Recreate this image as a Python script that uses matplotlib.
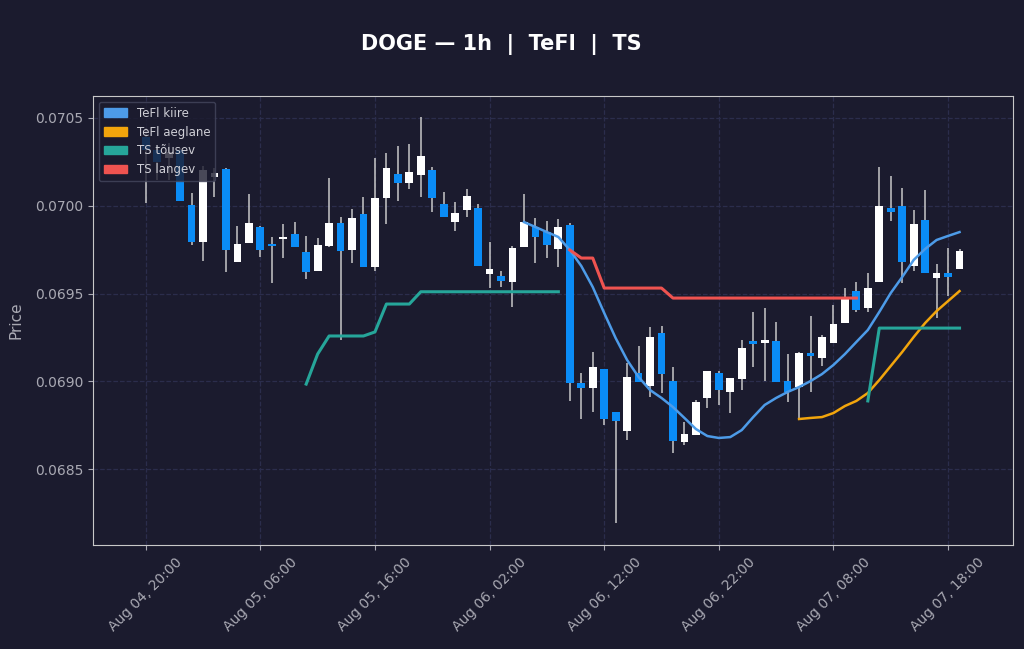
import numpy as np
import pandas as pd
import matplotlib
matplotlib.use("Agg")
import matplotlib.pyplot as plt
import matplotlib.dates as mdates
from matplotlib.patches import Patch

# hourly candles, Aug 04 20:00 -> Aug 07 19:00
times = pd.date_range("2024-08-04 20:00", periods=72, freq="h")

opens = [0.070392, 0.070318, 0.070272, 0.070318, 0.070004, 0.069793, 0.070164, 0.070209,
         0.069680, 0.069788, 0.069879, 0.069782, 0.069811, 0.069839, 0.069737, 0.069628,
         0.069771, 0.069902, 0.069748, 0.069953, 0.069651, 0.070044, 0.070181, 0.070130,
         0.070175, 0.070204, 0.070010, 0.069907, 0.069976, 0.069987, 0.069611, 0.069600,
         0.069566, 0.069765, 0.069879, 0.069850, 0.069754, 0.069890, 0.068990, 0.068962,
         0.069070, 0.068825, 0.068717, 0.069047, 0.068973, 0.069275, 0.069001, 0.068654,
         0.068694, 0.068905, 0.069047, 0.068939, 0.069013, 0.069229, 0.069218, 0.069229,
         0.069001, 0.068967, 0.069161, 0.069133, 0.069218, 0.069332, 0.069514, 0.069417,
         0.069566, 0.069987, 0.069999, 0.069657, 0.069919, 0.069588, 0.069617, 0.069640]
highs = [0.070443, 0.070346, 0.070358, 0.070329, 0.070073, 0.070227, 0.070215, 0.070215,
         0.069885, 0.070067, 0.069885, 0.069822, 0.069896, 0.069907, 0.069828, 0.069816,
         0.070158, 0.069936, 0.069982, 0.070050, 0.070272, 0.070301, 0.070341, 0.070352,
         0.070506, 0.070221, 0.070078, 0.070021, 0.070095, 0.070010, 0.069793, 0.069628,
         0.069771, 0.070067, 0.069930, 0.069913, 0.069925, 0.069902, 0.069047, 0.069167,
         0.069070, 0.068825, 0.069104, 0.069201, 0.069309, 0.069315, 0.069081, 0.068768,
         0.068893, 0.069058, 0.069058, 0.069019, 0.069235, 0.069395, 0.069417, 0.069338,
         0.069155, 0.069167, 0.069372, 0.069264, 0.069435, 0.069531, 0.069566, 0.069617,
         0.070221, 0.070170, 0.070101, 0.069976, 0.070090, 0.069668, 0.069759, 0.069754]
lows = [0.070016, 0.070147, 0.070147, 0.070027, 0.069776, 0.069685, 0.070050, 0.069623,
        0.069680, 0.069788, 0.069708, 0.069560, 0.069702, 0.069765, 0.069583, 0.069628,
        0.069765, 0.069235, 0.069674, 0.069651, 0.069628, 0.069896, 0.070027, 0.070095,
        0.070050, 0.069964, 0.069936, 0.069856, 0.069936, 0.069657, 0.069531, 0.069537,
        0.069423, 0.069765, 0.069674, 0.069702, 0.069651, 0.068888, 0.068785, 0.068825,
        0.068751, 0.068192, 0.068665, 0.068996, 0.068910, 0.068933, 0.068591, 0.068637,
        0.068694, 0.068848, 0.068865, 0.068819, 0.068950, 0.069081, 0.069001, 0.068996,
        0.068882, 0.068779, 0.068939, 0.069087, 0.069218, 0.069332, 0.069395, 0.069395,
        0.069566, 0.069913, 0.069560, 0.069628, 0.069617, 0.069360, 0.069486, 0.069640]
closes = [0.070318, 0.070249, 0.070306, 0.070027, 0.069793, 0.070204, 0.070187, 0.069748,
          0.069782, 0.069902, 0.069748, 0.069771, 0.069822, 0.069765, 0.069623, 0.069776,
          0.069902, 0.069742, 0.069930, 0.069651, 0.070044, 0.070215, 0.070130, 0.070192,
          0.070284, 0.070044, 0.069936, 0.069959, 0.070056, 0.069657, 0.069640, 0.069571,
          0.069759, 0.069907, 0.069822, 0.069776, 0.069879, 0.068990, 0.068962, 0.069081,
          0.068785, 0.068774, 0.069024, 0.068996, 0.069252, 0.069041, 0.068660, 0.068699,
          0.068882, 0.069058, 0.068950, 0.069019, 0.069190, 0.069212, 0.069235, 0.068996,
          0.068939, 0.069161, 0.069144, 0.069252, 0.069326, 0.069469, 0.069406, 0.069531,
          0.069999, 0.069964, 0.069680, 0.069896, 0.069617, 0.069617, 0.069594, 0.069742]

nan = np.nan
# TeFl kiire from candle 33, TeFl aeglane from candle 57
tefl_fast = [nan] * 33 + [
    0.069907, 0.069879, 0.069850, 0.069822, 0.069748, 0.069657, 0.069537, 0.069389,
    0.069246, 0.069121, 0.069024, 0.068950, 0.068905, 0.068853, 0.068791, 0.068728,
    0.068688, 0.068677, 0.068682, 0.068722, 0.068796, 0.068865, 0.068905, 0.068939,
    0.068967, 0.069001, 0.069041, 0.069093, 0.069155, 0.069224, 0.069292, 0.069395,
    0.069503, 0.069594, 0.069691, 0.069754, 0.069805, 0.069828, 0.069850]
tefl_slow = [nan] * 57 + [
    0.068785, 0.068791, 0.068796, 0.068819, 0.068859, 0.068888, 0.068933, 0.069007,
    0.069087, 0.069167, 0.069252, 0.069332, 0.069400, 0.069457, 0.069514]
ts_up = [nan] * 14 + [
    0.068984, 0.069155, 0.069258, 0.069258, 0.069258, 0.069258, 0.069281, 0.069440,
    0.069440, 0.069440] + [0.069510] * 13 + [nan] * 26 + [0.068888] + [0.069303] * 8
ts_down = [nan] * 37 + [0.069748, 0.069702, 0.069702] + [0.069531] * 6 + [0.069474] * 17 + [nan] * 9

tick_labels = ["Aug 04, 20:00", "Aug 05, 06:00", "Aug 05, 16:00", "Aug 06, 02:00",
               "Aug 06, 12:00", "Aug 06, 22:00", "Aug 07, 08:00", "Aug 07, 18:00"]

BG = "#1b1b2e"
UP = "#ffffff"
DOWN = "#0a8cf6"
WICK = "#c8c8c8"
C_FAST = "#4d9be8"
C_SLOW = "#f2a50c"
C_UP = "#26a69a"
C_DOWN = "#ef5350"

fig = plt.figure(figsize=(10.24, 6.49), dpi=100, facecolor=BG)
ax = fig.add_axes([0.0908, 0.1602, 0.8984, 0.6918], facecolor=BG)

x = mdates.date2num(times)
o = np.array(opens)
c = np.array(closes)
up = c >= o
width = 0.68 / 24

ax.vlines(x, lows, highs, color=WICK, linewidth=1.1, zorder=2)
body_h = np.maximum(np.abs(c - o), 0.000008)
body_b = np.minimum(o, c)
ax.bar(x[up], body_h[up], width, bottom=body_b[up], color=UP, linewidth=0, zorder=3)
ax.bar(x[~up], body_h[~up], width, bottom=body_b[~up], color=DOWN, linewidth=0, zorder=3)

ax.plot(x, tefl_fast, color=C_FAST, linewidth=1.8, zorder=4)
ax.plot(x, tefl_slow, color=C_SLOW, linewidth=1.8, zorder=4)
ax.plot(x, ts_up, color=C_UP, linewidth=2.2, zorder=4)
ax.plot(x, ts_down, color=C_DOWN, linewidth=2.2, zorder=4)

ax.set_xlim(x[0] - 4.6 / 24, x[0] + 75.66 / 24)
ax.set_ylim(0.068067, 0.070625)
ax.set_xticks(x[::10])
ax.set_xticklabels(tick_labels, rotation=45, ha="center")
ax.set_yticks([0.0685, 0.0690, 0.0695, 0.0700, 0.0705])
ax.yaxis.set_major_formatter(plt.FormatStrFormatter("%.4f"))
ax.tick_params(colors="#a9a9b3", labelsize=10)
for s in ax.spines.values():
    s.set_color("#c8c8c8")
ax.grid(True, color="#2b2d4c", linestyle="--", linewidth=0.9)
ax.set_axisbelow(True)
ax.set_ylabel("Price", color="#a9a9b3", fontsize=11, labelpad=8)

handles = [Patch(color=C_FAST, label="TeFl kiire"),
           Patch(color=C_SLOW, label="TeFl aeglane"),
           Patch(color=C_UP, label="TS tõusev"),
           Patch(color=C_DOWN, label="TS langev")]
leg = ax.legend(handles=handles, loc="upper left", fontsize=8.5, facecolor=BG,
                edgecolor="#45475e", framealpha=0.8, labelcolor="#cfcfd6")
leg.set_zorder(10)

fig.text(0.49, 0.932, "DOGE — 1h  |  TeFl  |  TS", color="white", fontsize=15,
         fontweight="bold", ha="center", va="center")

fig.savefig("out.png", dpi=100, facecolor=BG)
